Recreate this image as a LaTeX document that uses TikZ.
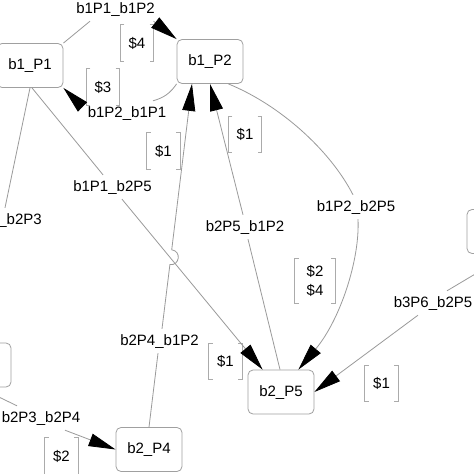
\documentclass[tikz,border=0pt]{standalone}
\usepackage{fontspec}
\setmainfont{Liberation Sans}
\usetikzlibrary{arrows.meta}
\definecolor{edgegray}{HTML}{9A9A9A}
\definecolor{boxgray}{HTML}{A0A0A0}
\definecolor{brgray}{HTML}{ABABAB}
\newcommand\drawbrackets[1]{%
  \draw[brline] ([xshift=4pt]#1.north west) -- (#1.north west) -- (#1.south west) -- ([xshift=4pt]#1.south west);
  \draw[brline] ([xshift=-4pt]#1.north east) -- (#1.north east) -- (#1.south east) -- ([xshift=-4pt]#1.south east);}
\begin{document}
\begin{tikzpicture}[x=1pt,y=-1pt,
  font=\fontsize{15pt}{19pt}\selectfont,
  place/.style={draw=boxgray, line width=0.8pt, rounded corners=5pt, minimum width=66pt, minimum height=44pt, inner sep=0pt, text height=11pt, text depth=3pt},
  trans/.style={inner xsep=5pt, inner ysep=5pt, text height=11pt, text depth=3pt, anchor=base},
  weight/.style={minimum width=33pt, minimum height=36pt, inner sep=0pt, align=center},
  ln/.style={draw=edgegray, line width=0.8pt},
  arr/.style={ln, -{Triangle[length=27pt,width=13pt,black]}},
  brline/.style={draw=brgray, line width=0.9pt}]
\useasboundingbox (0,0) rectangle (474,474);
\clip (0,0) rectangle (474,474);
\fill[white] (0,0) rectangle (474,474);
% places
\node[place] (b1P1) at (30,65.5) {b1\_P1};
\node[place] (b1P2) at (210,61.5) {b1\_P2};
\node[place] (b2P5) at (281,392) {b2\_P5};
\node[place] (b2P4) at (149,449.5) {b2\_P4};
\node[place] (b2P3) at (-22,365) {};
\node[place] (b3P6) at (500,231.5) {};
% transitions
\node[trans] (t1) at (115.5,13) {b1P1\_b1P2};
\node[trans] (t2) at (127,117) {b1P2\_b1P1};
\node[trans] (t3) at (112.5,191) {b1P1\_b2P5};
\node[trans] (t4) at (2.5,224) {b1P1\_b2P3};
\node[trans] (t5) at (356,211) {b1P2\_b2P5};
\node[trans] (t6) at (245,231) {b2P5\_b1P2};
\node[trans] (t7) at (159.5,345) {b2P4\_b1P2};
\node[trans] (t8) at (433,307) {b3P6\_b2P5};
\node[trans] (t9) at (41,422) {b2P3\_b2P4};
% weights
\node[weight] (w1) at (137,43) {\$4};
\node[weight] (w2) at (103,87) {\$3};
\node[weight] (w3) at (163.5,151) {\$1};
\node[weight] (w4) at (245,134.5) {\$1};
\node[weight, minimum width=40pt, minimum height=44pt] (w5) at (315,281) {\$2\\\$4};
\node[weight] (w6) at (225.5,361.5) {\$1};
\node[weight] (w7) at (381.5,383.5) {\$1};
\node[weight] (w8) at (61.5,456) {\$2};
\drawbrackets{w1}\drawbrackets{w2}\drawbrackets{w3}\drawbrackets{w4}
\drawbrackets{w5}\drawbrackets{w6}\drawbrackets{w7}\drawbrackets{w8}
% connectors
\draw[ln] (b1P1.north east) -- ([xshift=-25.5pt]t1.south);
\draw[arr] ([xshift=38pt]t1.south) -- (b1P2.north west);
\draw[ln] (b1P2.south west) to[bend left=20] ([xshift=26pt]t2.north);
\draw[arr] ([yshift=6pt]t2.west) -- (b1P1.south east);
\draw[ln] ([xshift=2pt]b1P1.south) -- ([xshift=-9.5pt]t3.north);
\draw[arr] ([xshift=9.5pt]t3.south) -- ([xshift=15pt]b2P5.north west);
\draw[ln] (b1P1.south) -- ([xshift=2.5pt]t4.north);
\draw[ln] ([xshift=-15pt]b1P2.south east) .. controls (280,105) and (330,150) .. ([xshift=-3pt]t5.north);
\draw[arr] ([xshift=2pt]t5.south) .. controls (360,260) and (340,320) .. ([xshift=-16pt]b2P5.north east);
\draw[ln] ([xshift=-1pt]b2P5.north) -- ([xshift=3pt]t6.south);
\draw[arr] ([xshift=-2pt]t6.north) -- (b1P2.south);
\draw[ln] (b2P4.north) -- ([xshift=-1.5pt]t7.south);
\coordinate (hopA) at (169.9,264.6);
\coordinate (hopB) at (171.7,249.8);
\draw[arr] ([xshift=2.5pt]t7.north) -- (hopA) .. controls (179.8,265.8) and (181.6,251.0) .. (hopB) -- ([xshift=-18pt]b1P2.south);
\draw[ln] ([xshift=9pt]b3P6.south) -- ([xshift=14pt]t8.north);
\draw[arr] ([xshift=-15pt]t8.south) -- (b2P5.east);
\draw[ln] ([xshift=1pt]b2P3.south) -- ([xshift=-24pt]t9.north);
\draw[arr] ([xshift=24pt]t9.south) -- (b2P4.west);
\end{tikzpicture}
\end{document}
